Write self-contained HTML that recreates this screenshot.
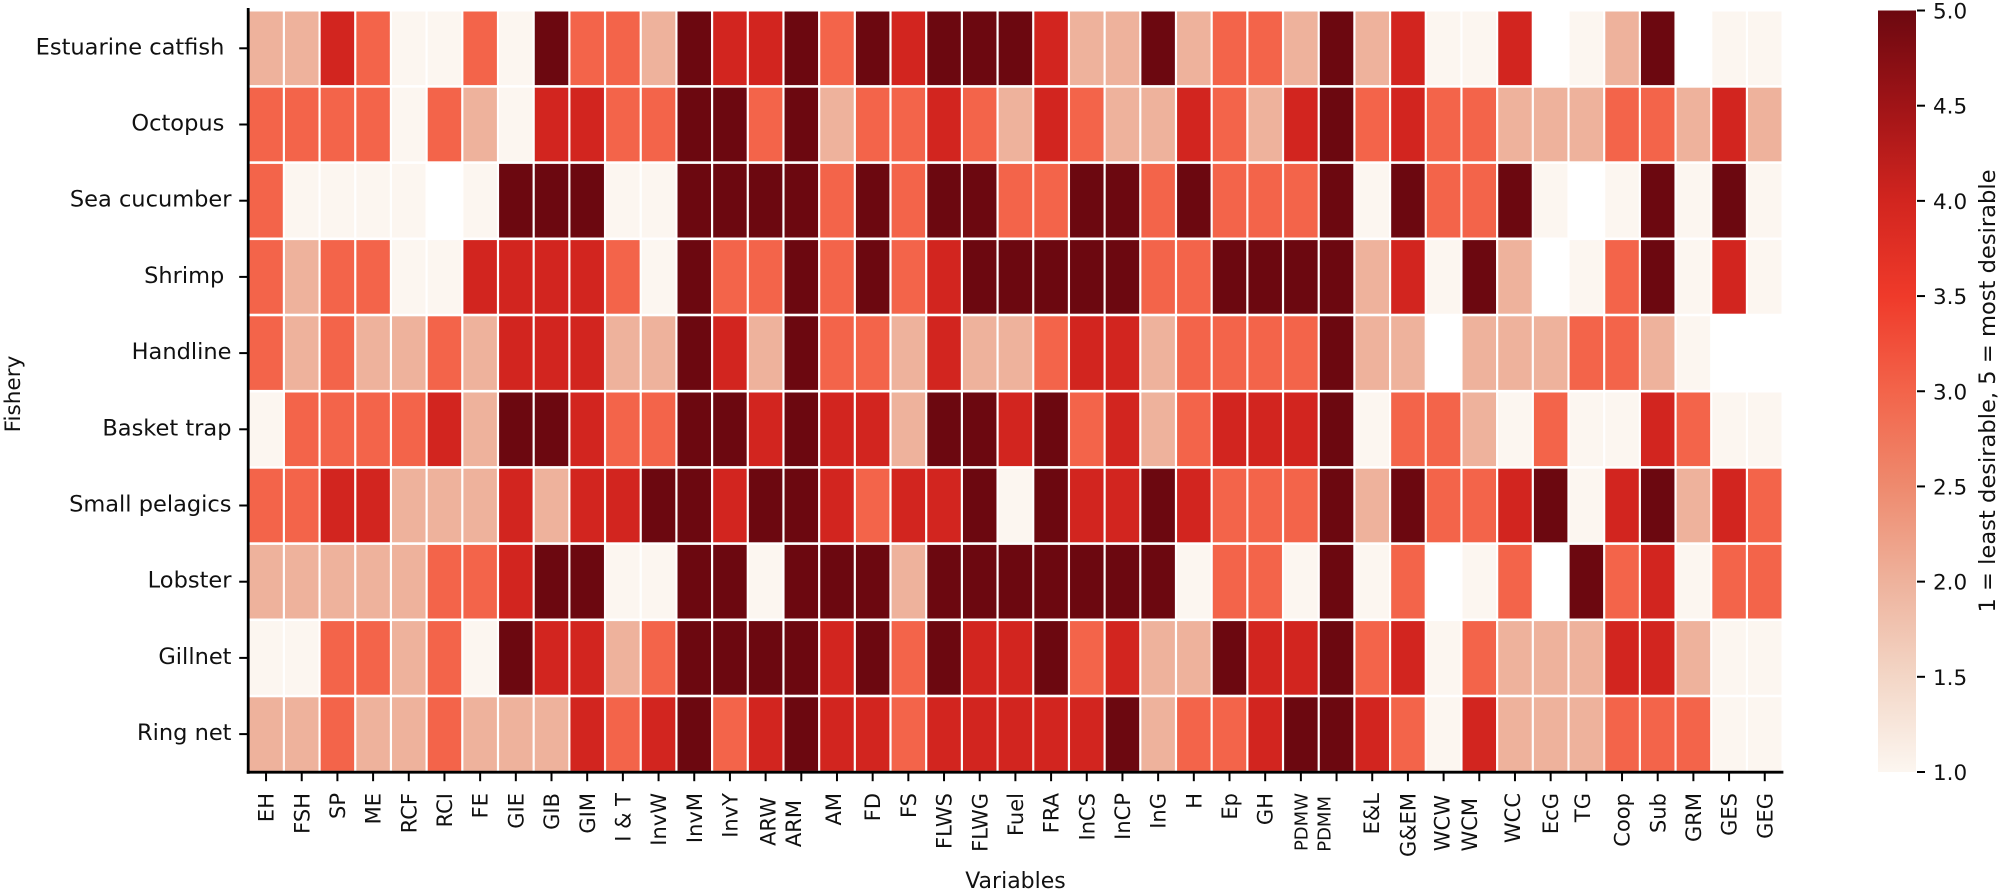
<!DOCTYPE html>
<html lang="en">
<head>
<meta charset="utf-8">
<title>Fishery desirability heatmap</title>
<style>
html,body{margin:0;padding:0;background:#fff;}
#chart{display:block;width:2000px;height:892px;}
text{font-family:"DejaVu Sans","Liberation Sans",sans-serif;fill:#111;white-space:pre;}
</style>
</head>
<body>
<svg id="chart" xmlns="http://www.w3.org/2000/svg" width="2000" height="892" viewBox="0 0 2000 892"></svg>
<script>
const fisheries = ["Estuarine catfish ", "Octopus ", "Sea cucumber", "Shrimp ", "Handline", "Basket trap", "Small pelagics", "Lobster", "Gillnet", "Ring net"];
const variables = ["EH","FSH","SP","ME","RCF","RCI","FE","GIE","GIB","GIM","I & T","InvW","InvM","InvY","ARW","ARM","AM","FD","FS","FLWS","FLWG","Fuel","FRA","InCS","InCP","InG","H","Ep","GH","PDMW","PDMM","E&L","G&EM","WCW","WCM","WCC","EcG","TG","Coop","Sub","GRM","GES","GEG"];
const estuarineCatfish = [2,2,4,3,1,1,3,1,5,3,3,2,5,4,4,5,3,5,4,5,5,5,4,2,2,5,2,3,3,2,5,2,4,1,1,4,null,1,2,5,null,1,1];
const octopus = [3,3,3,3,1,3,2,1,4,4,3,3,5,5,3,5,2,3,3,4,3,2,4,3,2,2,4,3,2,4,5,3,4,3,3,2,2,2,3,3,2,4,2];
const seaCucumber = [3,1,1,1,1,null,1,5,5,5,1,1,5,5,5,5,3,5,3,5,5,3,3,5,5,3,5,3,3,3,5,1,5,3,3,5,1,null,1,5,1,5,1];
const shrimp = [3,2,3,3,1,1,4,4,4,4,3,1,5,3,3,5,3,5,3,4,5,5,5,5,5,3,3,5,5,5,5,2,4,1,5,2,null,1,3,5,1,4,1];
const handline = [3,2,3,2,2,3,2,4,4,4,2,2,5,4,2,5,3,3,2,4,2,2,3,4,4,2,3,3,3,3,5,2,2,null,2,2,2,3,3,2,1,null,null];
const basketTrap = [1,3,3,3,3,4,2,5,5,4,3,3,5,5,4,5,4,4,2,5,5,4,5,3,4,2,3,4,4,4,5,1,3,3,2,1,3,1,1,4,3,1,1];
const smallPelagics = [3,3,4,4,2,2,2,4,2,4,4,5,5,4,5,5,4,3,4,4,5,1,5,4,4,5,4,3,3,3,5,2,5,3,3,4,5,1,4,5,2,4,3];
const lobster = [2,2,2,2,2,3,3,4,5,5,1,1,5,5,1,5,5,5,2,5,5,5,5,5,5,5,1,3,3,1,5,1,3,null,1,3,null,5,3,4,1,3,3];
const gillnet = [1,1,3,3,2,3,1,5,4,4,2,3,5,5,5,5,4,5,3,5,4,4,5,3,4,2,2,5,4,4,5,3,4,1,3,2,2,2,4,4,2,1,1];
const ringNet = [2,2,3,2,2,3,2,2,2,4,3,4,5,3,4,5,4,4,3,4,4,4,4,4,5,2,3,3,4,5,5,4,3,1,4,2,2,2,3,3,3,1,1];
const seriesValues = [estuarineCatfish, octopus, seaCucumber, shrimp, handline, basketTrap, smallPelagics, lobster, gillnet, ringNet];
const colorbarTicks = [1.0,1.5,2.0,2.5,3.0,3.5,4.0,4.5,5.0];

const NS = "http://www.w3.org/2000/svg";
const svg = document.getElementById("chart");
const plot = {left:248.2, right:1782.6, top:10.2, bottom:772.2};
const cbar = {left:1878, right:1916, top:10.5, bottom:772};
const domainMin = 1, domainMax = 5;
const rampColors = ["#fcf6f0","#f3d6c6","#eeb29c","#ee8a6e","#f3644a","#ef3a2a","#d2251f","#a01417","#6c0810"];
const labelNudgeX = {"ARW":2.5,"ARM":-8,"AM":-3.5,"PDMM":-12.7,"E&L":-1,"WCW":-1.5,"WCM":-10,"WCC":-2.3,"TG":-4};
const labelNudgeY = {"ARW":4,"ARM":7,"PDMM":3,"WCW":2,"WCM":5};
const labelSize = {"PDMW":18,"PDMM":18};

function xCenter(i){ return plot.left + (i + 0.5) * (plot.right - plot.left) / variables.length; }
function yCenter(i){ return plot.top + (i + 0.5) * (plot.bottom - plot.top) / fisheries.length; }
function cbarY(v){ return cbar.bottom - (v - domainMin) / (domainMax - domainMin) * (cbar.bottom - cbar.top); }
function hexToRgb(h){ return [1,3,5].map(function(k){ return parseInt(h.substr(k,2),16); }); }
function colorFor(v){
  const t = Math.max(0, Math.min(1, (v - domainMin) / (domainMax - domainMin))) * (rampColors.length - 1);
  const a = Math.min(Math.floor(t), rampColors.length - 2);
  const f = t - a;
  const c0 = hexToRgb(rampColors[a]), c1 = hexToRgb(rampColors[a + 1]);
  return "rgb(" + c0.map(function(c,k){ return Math.round(c + (c1[k] - c) * f); }).join(",") + ")";
}
function make(tag, attrs, parent){
  const el = document.createElementNS(NS, tag);
  Object.keys(attrs).forEach(function(k){ el.setAttribute(k, attrs[k]); });
  (parent || svg).appendChild(el);
  return el;
}

const defs = make("defs", {});
const grad = make("linearGradient", {id:"cbar-gradient", x1:"0", y1:"1", x2:"0", y2:"0"}, defs);
rampColors.forEach(function(c,i){
  make("stop", {offset:(i / (rampColors.length - 1)), "stop-color":c}, grad);
});

/* heatmap cells */
const cellW = (plot.right - plot.left) / variables.length;
const cellH = (plot.bottom - plot.top) / fisheries.length;
const gapX = 2.2, gapY = 2.6;
const cellsGroup = make("g", {});


seriesValues.forEach(function(row, r){
  row.forEach(function(v, c){
    if (v === null) return;
    const cell = make("rect", {
      x: xCenter(c) - cellW / 2 + gapX / 2,
      y: yCenter(r) - cellH / 2 + gapY / 2,
      width: cellW - gapX,
      height: cellH - gapY,
      fill: colorFor(v)
    }, cellsGroup);
    
    
    const tip = document.createElementNS(NS, "title");
    tip.textContent = fisheries[r].trim() + " / " + variables[c] + ": " + v;
    cell.appendChild(tip);
  });
});

/* axes spines */
const leftSpine = make("line", {x1:plot.left, y1:8, x2:plot.left, y2:plot.bottom + 1.5, stroke:"#000", "stroke-width":2.8});


const bottomSpine = make("line", {x1:plot.left - 1.4, y1:plot.bottom, x2:plot.right + 0.8, y2:plot.bottom, stroke:"#000", "stroke-width":2.8});



/* y ticks and labels */
fisheries.forEach(function(name, i){
  const y = yCenter(i);
  const tick = make("line", {x1:plot.left - 9, y1:y, x2:plot.left, y2:y, stroke:"#000", "stroke-width":2});
  
  
  const label = make("text", {x:231.5, y:y + 6, "text-anchor":"end", "font-size":22.5});
  label.textContent = name;
  
  
});

/* x ticks and labels */
variables.forEach(function(name, i){
  const x = xCenter(i);
  const tick = make("line", {x1:x, y1:plot.bottom, x2:x, y2:plot.bottom + 9, stroke:"#000", "stroke-width":2});
  
  
  const lx = x + (labelNudgeX[name] || 0);
  const ly = 793 + (labelNudgeY[name] || 0);
  const size = labelSize[name] || 21;
  const label = make("text", {transform:"translate(" + lx + "," + ly + ") rotate(-90)", "text-anchor":"end", "font-size":size, dy:"0.36em"});
  label.textContent = name;
  
  
});

/* axis titles */
const xTitle = make("text", {x:1015.5, y:888, "text-anchor":"middle", "font-size":22});
xTitle.textContent = "Variables";


const yTitle = make("text", {transform:"translate(20,394) rotate(-90)", "text-anchor":"middle", "font-size":21.6});
yTitle.textContent = "Fishery";



/* colorbar */
const bar = make("rect", {x:cbar.left, y:cbar.top, width:cbar.right - cbar.left, height:cbar.bottom - cbar.top, fill:"url(#cbar-gradient)"});


colorbarTicks.forEach(function(v){
  const y = cbarY(v);
  const tick = make("line", {x1:cbar.right + 1, y1:y, x2:cbar.right + 9, y2:y, stroke:"#000", "stroke-width":2});
  
  
  const label = make("text", {x:1933, y:y + 8, "font-size":21.5});
  label.textContent = v.toFixed(1);
  
  
});
const cbarTitle = make("text", {transform:"translate(1995,391) rotate(-90)", "text-anchor":"middle", "font-size":22.6});
cbarTitle.textContent = "1 = least desirable, 5 = most desirable";


</script>
</body>
</html>
